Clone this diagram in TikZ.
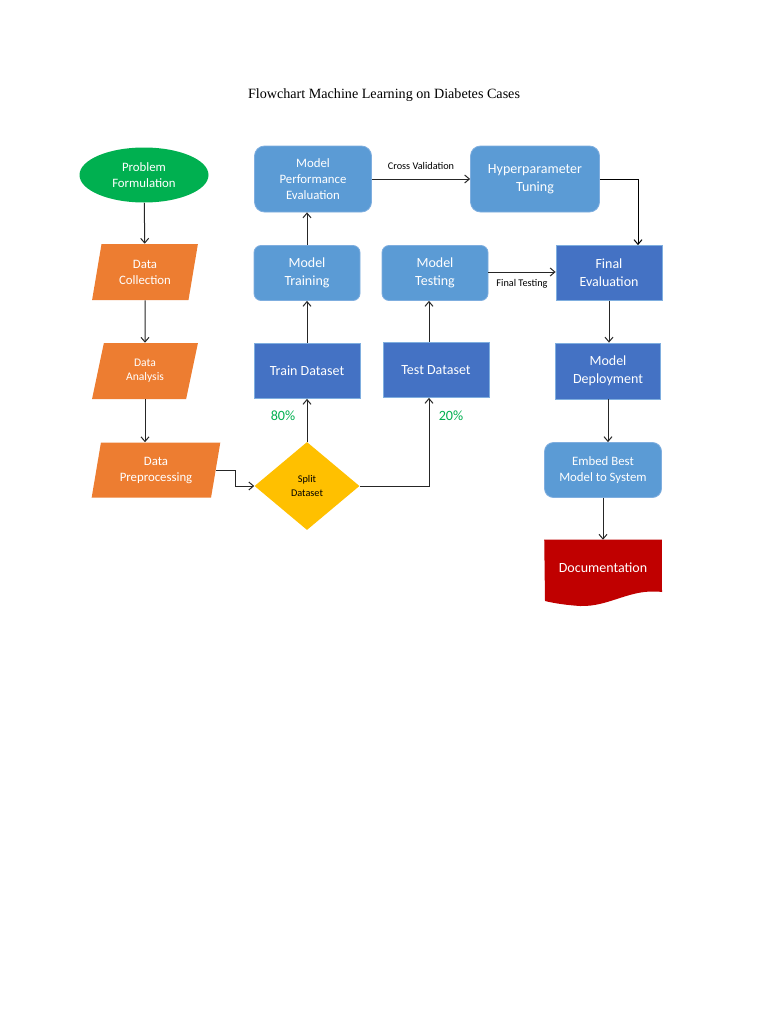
\documentclass[tikz,border=0pt]{standalone}
\usepackage{fontspec}
\setmainfont{Carlito}
\newfontfamily\titlefont{Liberation Serif}
\usetikzlibrary{positioning}
\usetikzlibrary{arrows.meta}
\usetikzlibrary{shapes.geometric}
\usetikzlibrary{calc}

\definecolor{startgreen}{HTML}{00B050}
\definecolor{dataorange}{HTML}{ED7D31}
\definecolor{lightblue}{HTML}{5B9BD5}
\definecolor{darkblue}{HTML}{4472C4}
\definecolor{edgeblue}{HTML}{7FAEDF}
\definecolor{splitgold}{HTML}{FFC000}
\definecolor{docred}{HTML}{C00000}
\definecolor{arrowgray}{HTML}{262626}

\def\px{0.75pt}

\tikzset{
  bigtext/.style={font=\fontsize{10.5}{13.7}\selectfont},
  midtext/.style={font=\fontsize{9.6}{12}\selectfont},
  smalltext/.style={font=\fontsize{7.7}{10}\selectfont},
  startnode/.style={ellipse, fill=startgreen, text=white, align=center, inner sep=0pt,
    minimum width=129*\px, minimum height=55*\px, midtext},
  datanode/.style={trapezium, trapezium left angle=77, trapezium right angle=103,
    trapezium stretches=true, fill=dataorange, text=white, align=center, inner sep=0pt,
    minimum width=106*\px, minimum height=56*\px, midtext},
  roundbox/.style={rectangle, rounded corners=7*\px, fill=lightblue, draw=edgeblue,
    line width=0.6pt, text=white, align=center, inner sep=0pt,
    minimum width=106*\px, minimum height=55*\px, bigtext},
  squarebox/.style={rectangle, fill=darkblue, draw=edgeblue, line width=0.6pt,
    text=white, align=center, inner sep=0pt,
    minimum width=106*\px, minimum height=55*\px, bigtext},
  splitnode/.style={diamond, fill=splitgold, align=center, inner sep=0pt,
    minimum width=105*\px, minimum height=88*\px, font=\fontsize{7.7}{10}\selectfont},
  pctlabel/.style={text=startgreen, font=\fontsize{10.6}{12}\selectfont},
  arrowline/.style={draw=arrowgray, line width=0.75pt,
    -{Straight Barb[length=3.5pt,width=6pt]}}
}

\begin{document}
\begin{tikzpicture}[x=0.75pt, y={(0pt,-0.75pt)}]

      \fill[white] (0,0) rectangle (768,1024);
      \useasboundingbox (0,0) rectangle (768,1024);

      \node (title) at (384,95)
        {\titlefont\fontsize{10.6}{13}\selectfont Flowchart Machine Learning on Diabetes Cases};

      % left column
      \node (problem)       at (144,175) [startnode] {Problem\\Formulation};
      \node (collection)    at (145,272) [datanode]  {Data\\Collection};
      \node (analysis)      at (145,371) [datanode, font=\fontsize{8.7}{10.7}\selectfont]
        {Data\\Analysis};
      \node (preprocessing) at (156,470) [datanode, minimum width=129*\px, minimum height=55*\px]
        {Data\\Preprocessing};

      % split and datasets
      \node (split) at (307,486) [splitnode] {Split\\Dataset};
      \node (train) at (307,371) [squarebox] {Train Dataset};
      \node (test)  at (436,370) [squarebox] {Test Dataset};
      \node (pct80) at (283,416) [pctlabel] {80\%};
      \node (pct20) at (451,416) [pctlabel] {20\%};

      % models
      \node (training) at (307,273) [roundbox] {Model\\Training};
      \node (testing)  at (435,273) [roundbox] {Model\\Testing};
      \node (perf)     at (313,179) [roundbox, rounded corners=10*\px, midtext,
        minimum width=117*\px, minimum height=66*\px] {Model\\Performance\\Evaluation};
      \node (hyper)    at (535,179) [roundbox, rounded corners=10*\px,
        minimum width=129*\px, minimum height=66*\px] {Hyperparameter\\Tuning};

      % right column
      \node (final)  at (609,273) [squarebox] {Final\\Evaluation};
      \node (deploy) at (608,371) [squarebox, minimum width=105*\px, minimum height=56*\px]
        {Model\\Deployment};
      \node (embed)  at (603,470) [roundbox, rounded corners=9*\px, midtext,
        minimum width=117*\px] {Embed Best\\Model to System};
      \node (doc)    at (603,568) [bigtext, text=white, inner sep=0pt,
        minimum width=117*\px, minimum height=56*\px] {};
      \fill[docred] (doc.north west) -- (doc.north east) -- (662,592)
        .. controls (630,588) and (610,607) .. (580,606)
        .. controls (565,605) and (553,603) .. (545,601) -- cycle;
      \node (doctext) at (doc.center) [bigtext, text=white] {Documentation};

      % connectors
      \draw[arrowline] (problem) -- (collection);
      \draw[arrowline] (collection) -- (analysis);
      \draw[arrowline] (analysis.south) -- (analysis.south |- preprocessing.north);
      \draw[arrowline] (preprocessing.east) -- ++(20,0) |- (split.west);
      \draw[arrowline] (split.north) -- (train.south);
      \draw[arrowline] (split.east) -| ([xshift=-7*\px]test.south);
      \draw[arrowline] (train) -- (training);
      \draw[arrowline] ([xshift=-7*\px]test.north) -- ([xshift=-7*\px]test.north |- testing.south);
      \draw[arrowline] (training.north) -- (training.north |- perf.south);
      \draw[arrowline] (perf.east) -- node (cvlabel) [above=3pt, smalltext, text=black]
        {Cross Validation} (hyper.west);
      \draw[arrowline, draw=black] (hyper.east) -| ([xshift=29*\px]final.north);
      \draw[arrowline] ([yshift=1*\px]testing.east) -- node (ftlabel) [below=2pt, smalltext, text=black]
        {Final Testing} ([yshift=1*\px]testing.east -| final.west);
      \draw[arrowline] (final.south) -- (final.south |- deploy.north);
      \draw[arrowline] (deploy.south) -- (deploy.south |- embed.north);
      \draw[arrowline] (embed.south) -- (embed.south |- doc.north);

    \end{tikzpicture}
\end{document}
